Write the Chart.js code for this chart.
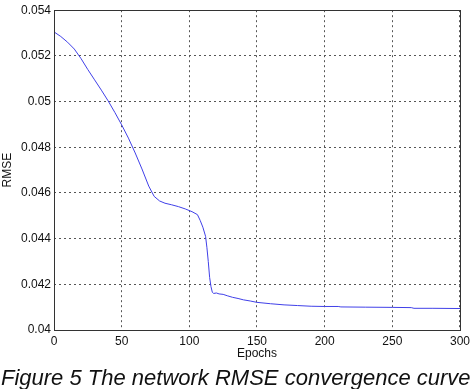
<!DOCTYPE html>
<html><head><meta charset="utf-8">
<script src="https://cdn.jsdelivr.net/npm/chart.js@4"></script>
<style>
html,body{margin:0;padding:0;background:#fff;width:474px;height:389px;overflow:hidden;}
#wrap{position:absolute;left:0;top:0;width:474px;height:389px;}
#cap{position:absolute;left:1px;top:365px;font-family:"Liberation Sans",Arial,sans-serif;font-style:italic;font-size:22px;color:#111;white-space:nowrap;}
</style></head>
<body>
<div id="wrap"><canvas id="c" width="474" height="389"></canvas></div>
<div id="cap">Figure 5 The network RMSE convergence curve</div>
<script>
const epochs = [0,5,10,15,20,25,30,35,40,45,50,55,60,65,70,74,78,82,87,92,97,102,106,108,110,112,113,114,115,116,117,118,120,122,125,128,132,136,140,145,150,160,170,180,190,200,210,212,230,250,264,266,280,300];
const rmse = [0.05305,0.05285,0.0526,0.0523,0.05188,0.0514,0.05095,0.0505,0.05003,0.04952,0.04898,0.0484,0.04775,0.04705,0.0463,0.04585,0.04565,0.04555,0.04548,0.0454,0.0453,0.04518,0.04505,0.0448,0.0445,0.0441,0.0436,0.0430,0.0423,0.0419,0.04165,0.0416,0.04162,0.04158,0.04156,0.0415,0.04143,0.04138,0.04132,0.04127,0.04121,0.04115,0.0411,0.04107,0.04104,0.04103,0.04103,0.04101,0.041,0.04099,0.04098,0.04095,0.04095,0.04094];
const xTicks = [0,50,100,150,200,250,300];
const yTicks = [0.04,0.042,0.044,0.046,0.048,0.05,0.052,0.054];

const FONT = {family:'"Liberation Sans", Arial, sans-serif', size:12};
const boxPlugin = {
  id:'box',
  afterDraw(chart){
    const {ctx, chartArea:a} = chart;
    ctx.save();
    ctx.strokeStyle='#333';
    ctx.lineWidth=1;
    ctx.strokeRect(Math.round(a.left)+0.5, Math.round(a.top)+0.5, Math.round(a.right-a.left), Math.round(a.bottom-a.top));
    ctx.restore();
  }
};
new Chart(document.getElementById('c'), {
  type:'line',
  data:{datasets:[{data:epochs.map((e,i)=>({x:e,y:rmse[i]})),borderColor:'#4040e8',borderWidth:1,pointRadius:0,tension:0}]},
  options:{
    responsive:false,animation:false,
    layout:{padding:{top:7,right:10,left:0,bottom:28}},
    plugins:{legend:{display:false},tooltip:{enabled:false}},
    scales:{
      x:{type:'linear',min:0,max:300,
        afterBuildTicks(s){s.ticks=xTicks.map(v=>({value:v}));},
        afterFit(s){s.height=31;},
        ticks:{font:FONT,color:'#111',padding:4,maxRotation:0},
        grid:{color:'#555',lineWidth:1,drawTicks:false,tickLength:0},
        border:{display:false,dash:[2,3]},
        title:{display:true,text:'Epochs',font:FONT,color:'#111',padding:{top:0,bottom:0}}
      },
      y:{type:'linear',min:0.04,max:0.054,
        afterBuildTicks(s){s.ticks=yTicks.map(v=>({value:v}));},
        afterFit(s){s.width=54;},
        ticks:{font:FONT,color:'#111',padding:3,callback:v=>String(Number(v.toFixed(3)))},
        grid:{color:'#555',lineWidth:1,drawTicks:false,tickLength:0},
        border:{display:false,dash:[2,3]},
        title:{display:true,text:'RMSE',font:FONT,color:'#111',padding:{top:0,bottom:0}}
      }
    }
  },
  plugins:[boxPlugin]
});
</script>
</body></html>
